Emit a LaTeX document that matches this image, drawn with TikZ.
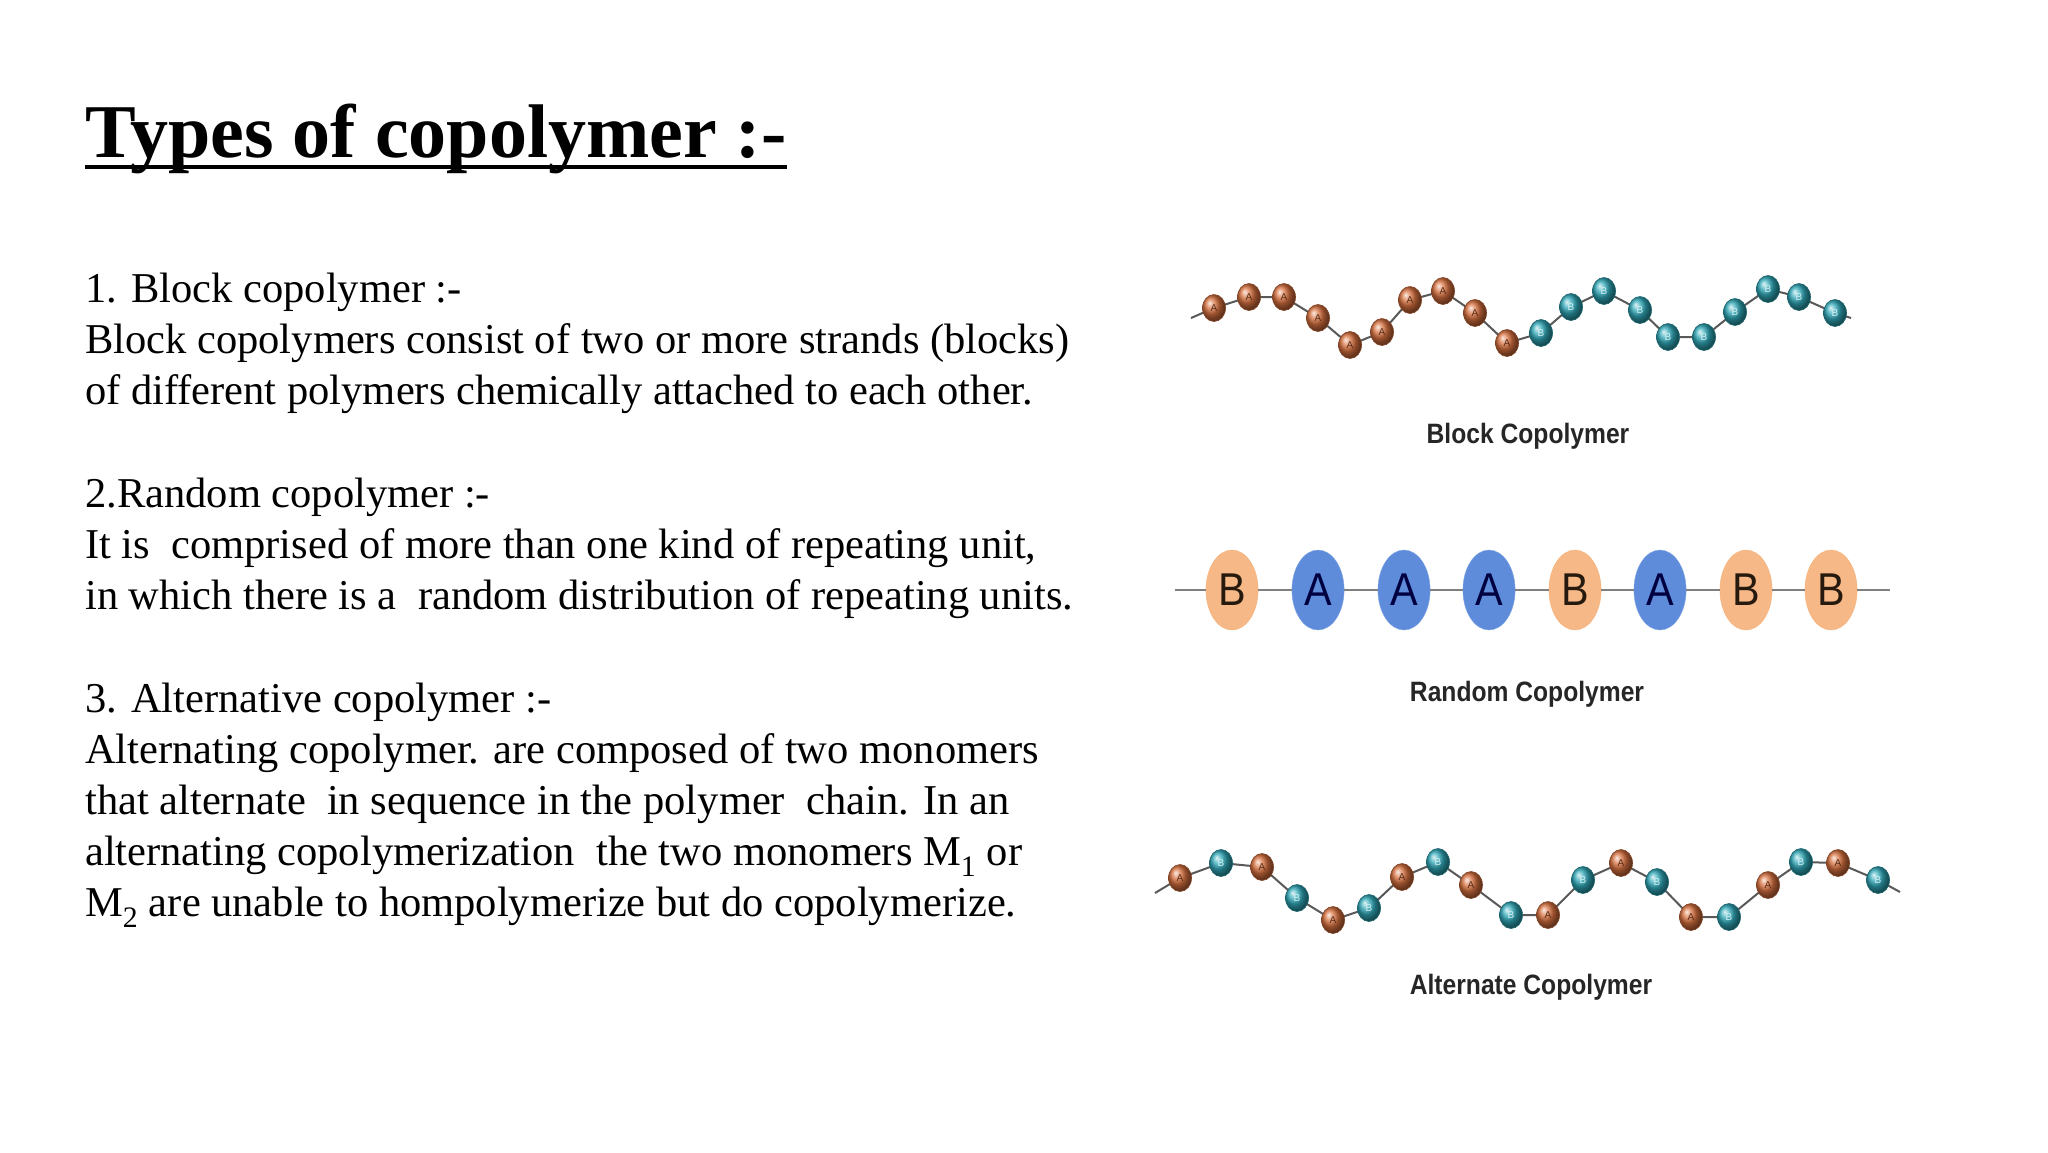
\documentclass[tikz,border=0pt]{standalone}
\usepackage{fontspec}
\setmainfont{Liberation Serif}
\newfontfamily\lblfont{Liberation Sans}
\usetikzlibrary{shapes.geometric}
\definecolor{rA}{HTML}{5E8CDB}
\definecolor{rB}{HTML}{F6B887}
\definecolor{sA}{HTML}{D8703E}
\definecolor{sB}{HTML}{2FA9B9}
\begin{document}
\begin{tikzpicture}[x=1pt,y=-1pt,
  bodytext/.style={anchor=base west,inner sep=0,font=\fontsize{42.5}{48}\selectfont},
  lbl/.style={font=\lblfont\bfseries\fontsize{28}{30}\selectfont,text=black!85,xscale=0.88},
  beadA/.style={ellipse,minimum width=23,minimum height=27,inner sep=0,ball color=sA,draw=sA!60!black,line width=0.6,font=\lblfont\fontsize{10}{10}\selectfont,text=sA!40!black},
  beadB/.style={ellipse,minimum width=23,minimum height=27,inner sep=0,ball color=sB,draw=sB!60!black,line width=0.6,font=\lblfont\fontsize{10}{10}\selectfont,text=white!80!sB},
  bigA/.style={ellipse,minimum width=58,minimum height=80,inner sep=0,fill=rA,draw=rA!80!white,font=\lblfont\fontsize{46}{46}\selectfont,text=blue!25!black,xscale=0.9},
  bigB/.style={ellipse,minimum width=58,minimum height=80,inner sep=0,fill=rB,draw=rB!90!orange,font=\lblfont\fontsize{46}{46}\selectfont,text=black!80!brown,xscale=0.9},
  chain/.style={draw=black!65,line width=2},
  rchain/.style={draw=black!50,line width=1.8}]
\useasboundingbox[fill=white] (0,0) rectangle (2048,1152);
% title
\node[anchor=base west,inner sep=0,font=\bfseries\fontsize{76}{80}\selectfont] (title) at (85,157) {Types of copolymer :-};
\draw[line width=3.5] ([yshift=-10]title.base west) -- ([yshift=-10]title.base east);
% body
\node[bodytext] (l1) at (85,302) {1. Block copolymer :-};
\node[bodytext] (l2) at (85,353) {Block copolymers consist of two or more strands (blocks)};
\node[bodytext] (l3) at (85,404) {of different polymers chemically attached to each other.};
\node[bodytext] (l4) at (85,507) {2.Random copolymer :-};
\node[bodytext] (l5) at (85,558) {It is\ \ comprised of more than one kind of repeating unit,};
\node[bodytext] (l6) at (85,609) {in which there is a\ \ random distribution of repeating units.};
\node[bodytext] (l7) at (85,712) {3. Alternative copolymer :-};
\node[bodytext] (l8) at (85,763) {Alternating copolymer. are composed of two monomers};
\node[bodytext] (l9) at (85,814) {that alternate\ \ in sequence in the polymer\ \ chain. In an};
\node[bodytext] (l10) at (85,865) {alternating copolymerization\ \ the two monomers M\textsubscript{1} or};
\node[bodytext] (l11) at (85,916) {M\textsubscript{2} are unable to hompolymerize but do copolymerize.};
% block chain
\coordinate (bs) at (1191,318);
\coordinate (be) at (1851,318);
\foreach \n/\x/\y in {1/1214/308,2/1249/297,3/1284/297,4/1318/318,5/1350/345,6/1382/332,7/1410/300,8/1443/291,9/1475/313,10/1507/343,11/1541/333,12/1571/307,13/1604/291,14/1640/310,15/1668/337,16/1704/337,17/1735/312,18/1768/289,19/1799/297,20/1835/313}
  {\coordinate (kc\n) at (\x,\y);}
\draw[chain] (bs) \foreach \n in {1,...,20}{-- (kc\n)} -- (be);
\foreach \n/\t in {1/A,2/A,3/A,4/A,5/A,6/A,7/A,8/A,9/A,10/A,11/B,12/B,13/B,14/B,15/B,16/B,17/B,18/B,19/B,20/B}
  {\node[bead\t] (k\n) at (kc\n) {\t};}
\node[lbl] (lblock) at (1528,436) {Block Copolymer};
% random chain
\coordinate (rs) at (1175,590);
\coordinate (re) at (1890,590);
\foreach \n/\x/\t in {1/1232/B,2/1318/A,3/1404/A,4/1489/A,5/1575/B,6/1660/A,7/1746/B,8/1831/B}
  {\node[big\t] (r\n) at (\x,590) {\t};}
\draw[rchain] (rs) -- (r1) -- (r2) -- (r3) -- (r4) -- (r5) -- (r6) -- (r7) -- (r8) -- (re);
\node[lbl] (lrandom) at (1527,694) {Random Copolymer};
% alternate chain
\coordinate (as) at (1155,893);
\coordinate (ae) at (1900,892);
\foreach \n/\x/\y in {1/1180/878,2/1221/863,3/1262/867,4/1297/898,5/1333/920,6/1369/908,7/1402/877,8/1438/862,9/1471/885,10/1511/915,11/1548/915,12/1583/880,13/1621/863,14/1657/882,15/1691/917,16/1729/917,17/1768/885,18/1801/862,19/1838/863,20/1878/880}
  {\coordinate (ac\n) at (\x,\y);}
\draw[chain] (as) \foreach \n in {1,...,20}{-- (ac\n)} -- (ae);
\foreach \n/\t in {1/A,2/B,3/A,4/B,5/A,6/B,7/A,8/B,9/A,10/B,11/A,12/B,13/A,14/B,15/A,16/B,17/A,18/B,19/A,20/B}
  {\node[bead\t] (a\n) at (ac\n) {\t};}
\node[lbl] (lalt) at (1531,987) {Alternate Copolymer};
\end{tikzpicture}
\end{document}
